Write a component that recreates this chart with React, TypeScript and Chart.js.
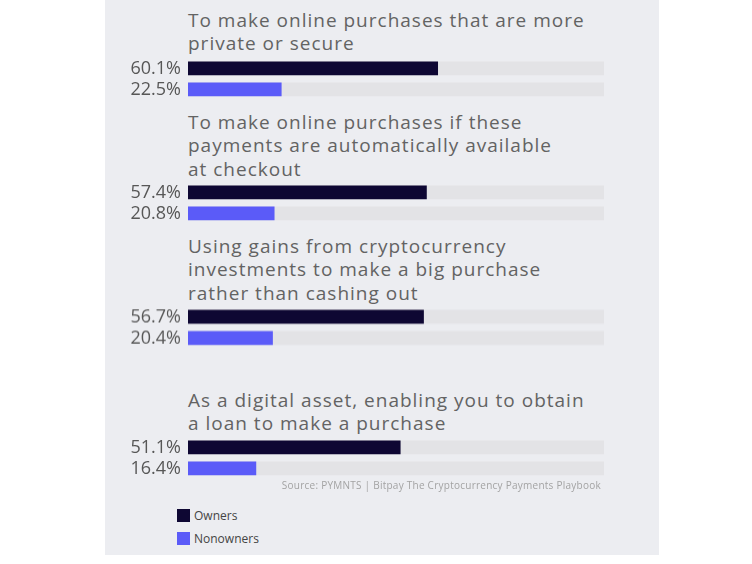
import React, { useEffect, useRef } from 'react';
import Chart from 'chart.js/auto';

const questions: string[][] = [
  ['To make online purchases that are more', 'private or secure'],
  ['To make online purchases if these', 'payments are automatically available', 'at checkout'],
  ['Using gains from cryptocurrency', 'investments to make a big purchase', 'rather than cashing out'],
  ['As a digital asset, enabling you to obtain', 'a loan to make a purchase'],
];
const owners = [60.1, 57.4, 56.7, 51.1];
const nonowners = [22.5, 20.8, 20.4, 16.4];
const seriesNames = ['Owners', 'Nonowners'];
const trackMax = 100;
const sourceText = 'Source: PYMNTS | Bitpay The Cryptocurrency Payments Playbook';

const FONT = "'Open Sans', sans-serif";
const DARK = '#0e0733';
const BLUE = '#5b5bf8';
const TRACK = '#e3e3e6';
const PANEL = '#ecedf1';
const seriesColors = [DARK, BLUE];

// vertical placement of each block inside the panel
const titleTops = [9, 111, 235, 389];
const chartTops = [57.5, 181.5, 306, 436.5];
// the y axis reserves half a label line + tick padding above and below
const TICK_SIZE = 18;
const TICK_LH = 1.1;
const TICK_PADDING = 7;
const LABEL_PAD = (TICK_SIZE * TICK_LH) / 2 + TICK_PADDING;

interface GroupProps {
  values: number[];
  top: number;
}

const GroupChart: React.FC<GroupProps> = ({ values, top }) => {
  const canvasRef = useRef<HTMLCanvasElement>(null);
  const chartRef = useRef<Chart | null>(null);

  useEffect(() => {
    if (!canvasRef.current) return;
    if (chartRef.current) chartRef.current.destroy();
    const ctx = canvasRef.current.getContext('2d');
    if (!ctx) return;

    chartRef.current = new Chart(ctx, {
      type: 'bar',
      data: {
        labels: values.map(v => `${v.toFixed(1)}%`),
        datasets: [
          {
            label: 'value',
            data: values,
            backgroundColor: seriesColors,
            grouped: false,
            order: 1,
            barPercentage: 0.66,
            categoryPercentage: 1,
          },
          {
            label: 'track',
            data: values.map(() => trackMax),
            backgroundColor: TRACK,
            grouped: false,
            order: 2,
            barPercentage: 0.66,
            categoryPercentage: 1,
          },
        ],
      },
      options: {
        indexAxis: 'y',
        animation: false,
        responsive: true,
        maintainAspectRatio: false,
        layout: { padding: 0 },
        plugins: {
          legend: { display: false },
          tooltip: { enabled: false },
        },
        scales: {
          x: { display: false, min: 0, max: trackMax },
          y: {
            border: { display: false },
            grid: { display: false, drawTicks: false },
            ticks: {
              autoSkip: false,
              padding: TICK_PADDING,
              color: '#575757',
              font: { family: FONT, size: TICK_SIZE, lineHeight: TICK_LH },
            },
            afterFit: (scale: any) => {
              scale.width = 83;
            },
          },
        },
      },
    });

    return () => {
      if (chartRef.current) {
        chartRef.current.destroy();
        chartRef.current = null;
      }
    };
  }, [values]);

  return (
    <div style={{ position: 'absolute', left: 0, top: top - LABEL_PAD, width: 499, height: 42 + 2 * LABEL_PAD }}>
      <canvas ref={canvasRef}></canvas>
    </div>
  );
};

const App: React.FC = () => {
  return (
    <div
      style={{
        position: 'absolute',
        left: 105,
        top: 0,
        width: 554,
        height: 555,
        background: PANEL,
        fontFamily: FONT,
      }}
    >
      {questions.map((lines, i) => (
        <div
          key={`t${i}`}
          style={{
            position: 'absolute',
            left: 83,
            top: titleTops[i] - 0.5,
            fontSize: 19,
            letterSpacing: '1px',
            lineHeight: '23.5px',
            color: '#636363',
            whiteSpace: 'nowrap',
          }}
        >
          {lines.map((l, j) => (
            <div key={j}>{l}</div>
          ))}
        </div>
      ))}
      {owners.map((o, i) => (
        <GroupChart key={`c${i}`} values={[o, nonowners[i]]} top={chartTops[i]} />
      ))}
      <div
        style={{
          position: 'absolute',
          right: 58,
          top: 478,
          fontSize: 10,
          letterSpacing: '0.25px',
          color: '#a3a3a3',
          whiteSpace: 'nowrap',
        }}
      >
        {sourceText}
      </div>
      {seriesNames.map((name, i) => (
        <div
          key={name}
          style={{
            position: 'absolute',
            left: 72,
            top: 509 + i * 23,
            height: 13,
            display: 'flex',
            alignItems: 'center',
            fontSize: 12,
            color: '#444',
          }}
        >
          <span style={{ width: 13, height: 13, background: seriesColors[i], marginRight: 4 }}></span>
          {name}
        </div>
      ))}
    </div>
  );
};

export default App;
